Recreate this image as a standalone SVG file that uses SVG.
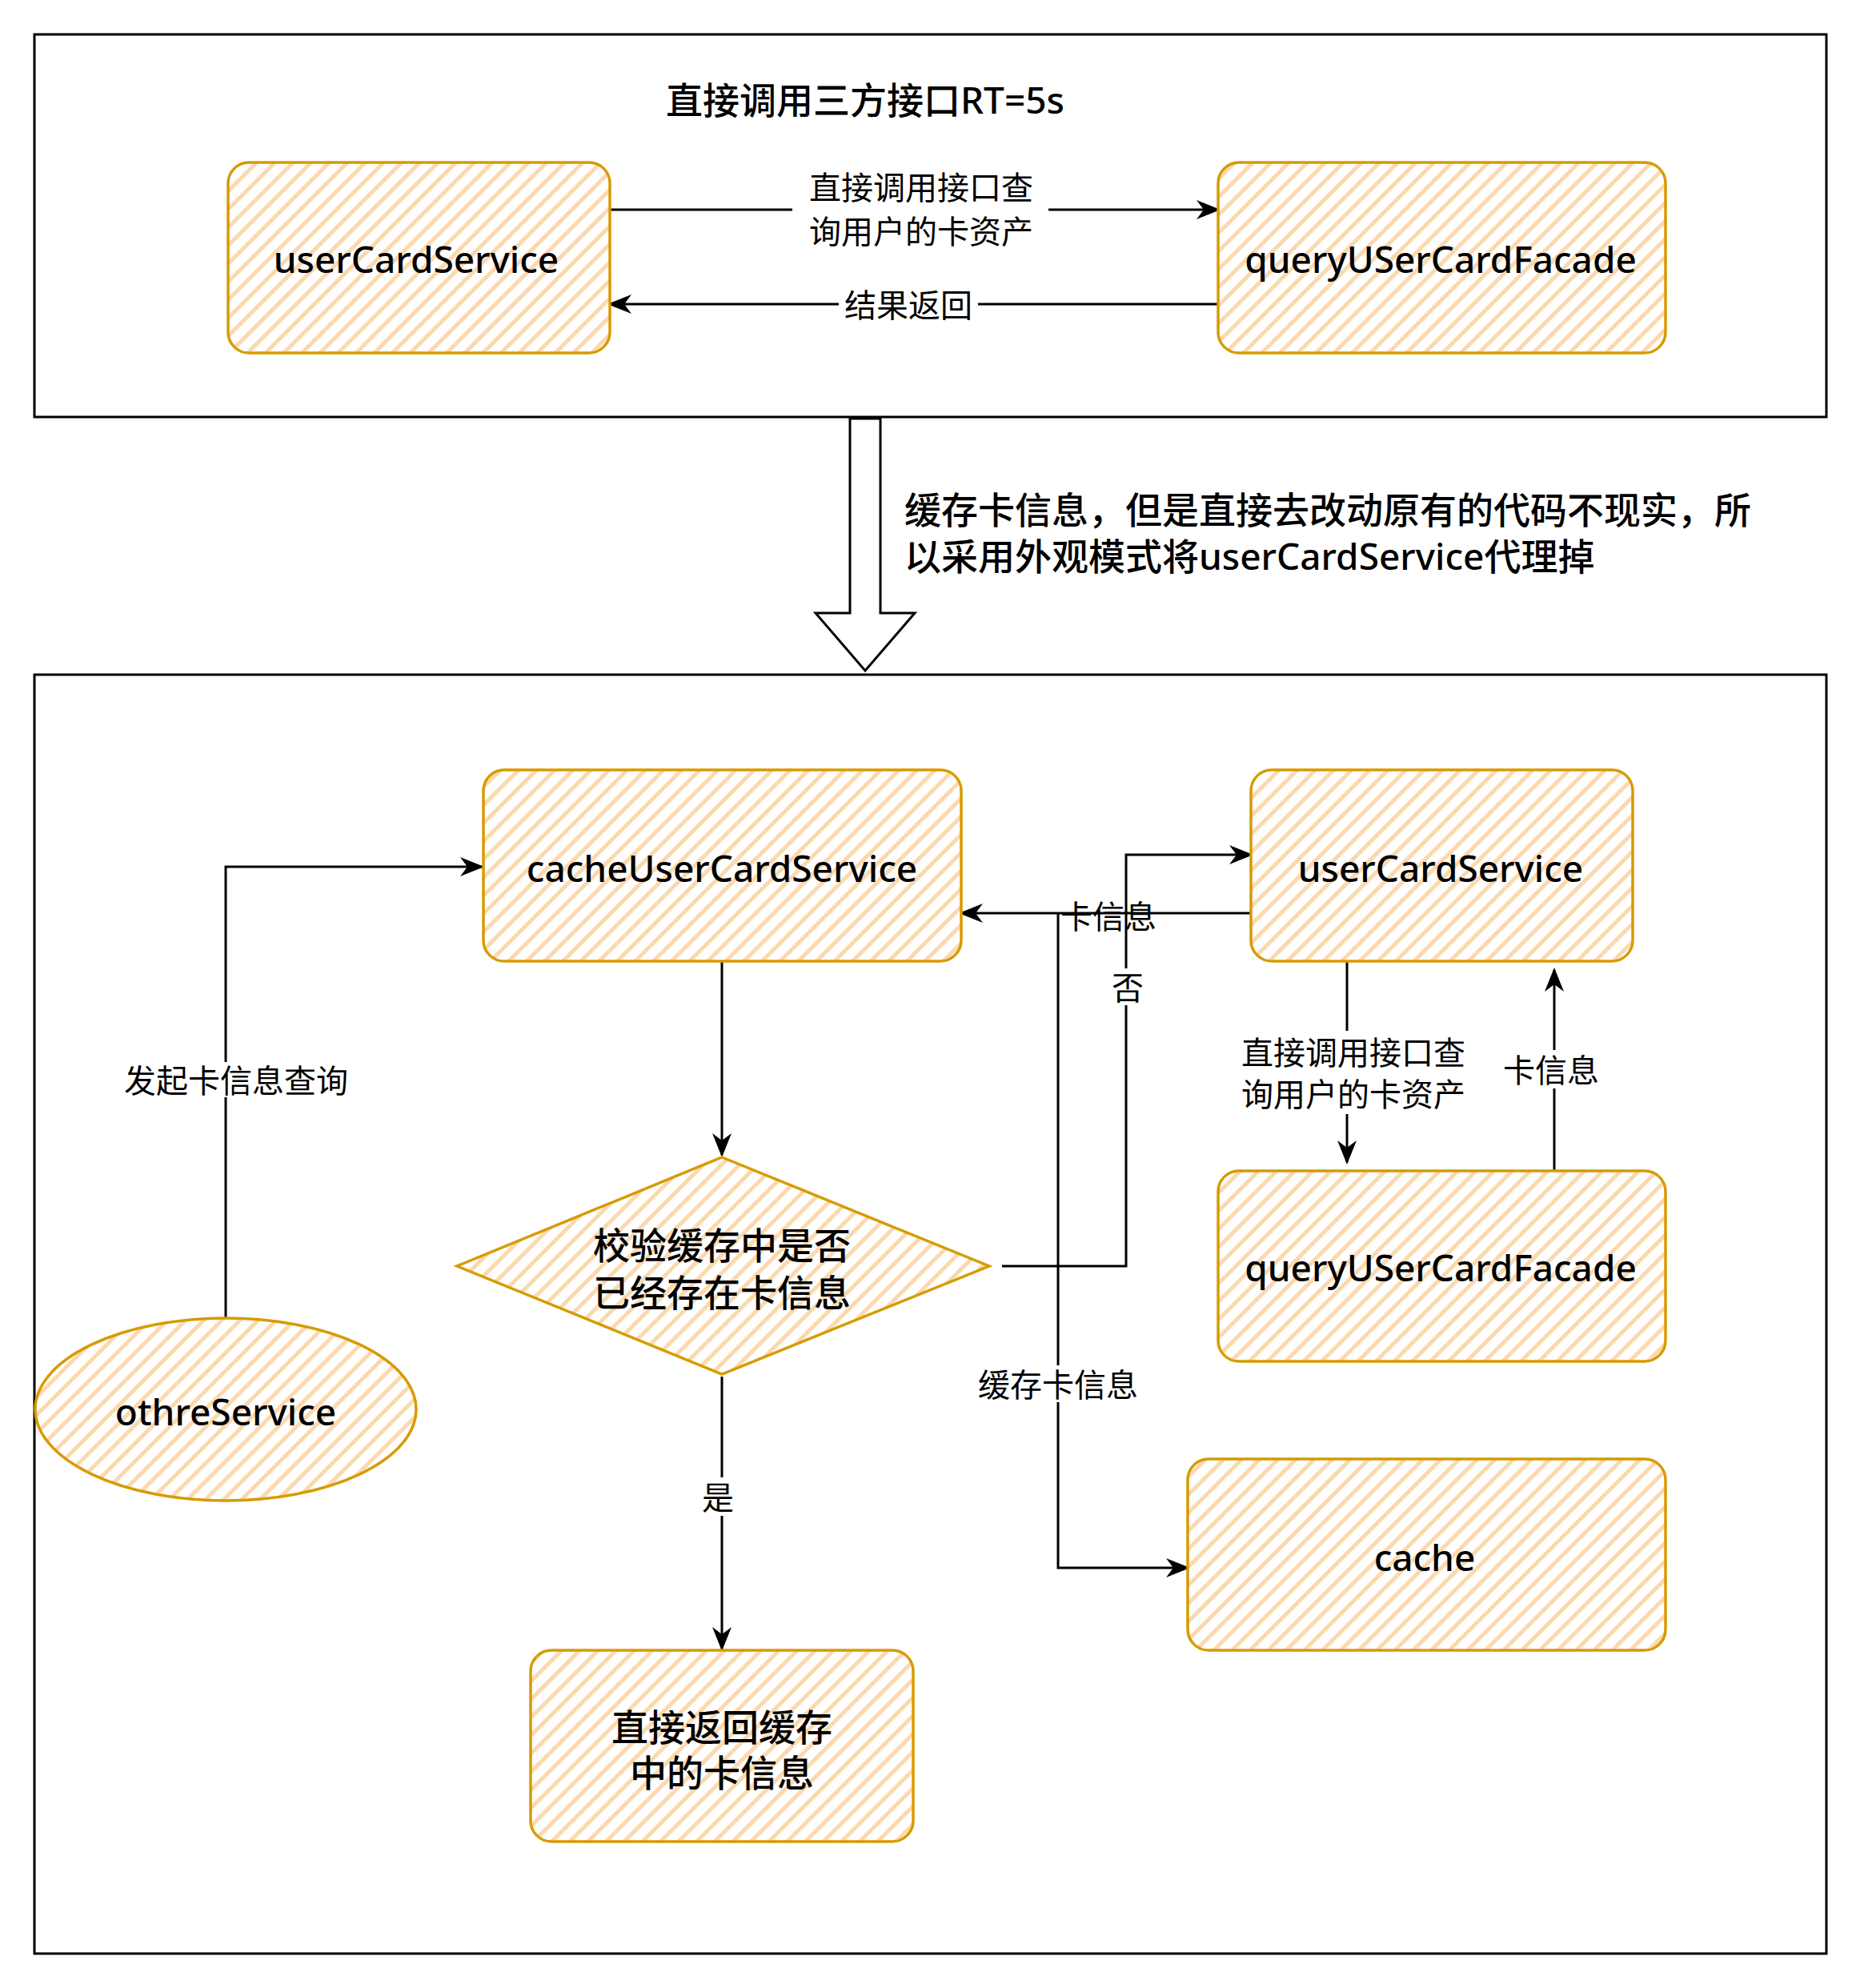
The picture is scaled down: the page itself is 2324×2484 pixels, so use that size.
<svg xmlns="http://www.w3.org/2000/svg" width="2324" height="2484" viewBox="0 0 2324 2484">
<defs>
<pattern id="h" width="16" height="16" patternUnits="userSpaceOnUse" patternTransform="rotate(-45)">
<rect width="16" height="16" fill="#fff"/>
<rect width="16" height="5" fill="#fbd9ae"/>
</pattern>
<marker id="a" viewBox="0 0 10 10" refX="9" refY="5" markerWidth="30" markerHeight="30" markerUnits="userSpaceOnUse" orient="auto">
<path d="M0,1 L10,5 L0,9 L3,5 Z" fill="#000"/>
</marker>
</defs>
<style>
.n{fill:url(#h);stroke:#d79b00;stroke-width:3.5}
.t{font-family:"Noto Sans","Noto Sans CJK SC",sans-serif;font-size:46px;font-weight:500;text-anchor:middle;dominant-baseline:central;fill:#000}
.l{font-family:"Noto Sans","Noto Sans CJK SC",sans-serif;font-size:40px;text-anchor:middle;dominant-baseline:central;fill:#000}
.bg{fill:#fff}
.c{fill:none;stroke:#000;stroke-width:3;marker-end:url(#a)}
.f{fill:none;stroke:#000;stroke-width:3}
</style>
<rect width="2324" height="2484" fill="#fff"/>
<g id="frame-top"><rect x="43" y="43" width="2239" height="478" class="f"/></g>
<g id="frame-bottom"><rect x="43" y="843" width="2239" height="1598" class="f"/></g>
<g id="title"><text x="1081" y="124" class="t">直接调用三方接口RT=5s</text></g>
<g id="big-arrow"><path d="M1062,523 L1100,523 L1100,766 L1143,766 L1081,838 L1019,766 L1062,766 Z" fill="#fff" stroke="#000" stroke-width="3"/></g>
<g id="note"><text x="1130" y="636" class="t" style="text-anchor:start">缓存卡信息，但是直接去改动原有的代码不现实，所</text><text x="1130" y="694" class="t" style="text-anchor:start">以采用外观模式将userCardService代理掉</text></g>
<g id="connectors">
<path d="M762,262 L1522,262" class="c"/>
<path d="M1522,380 L762,380" class="c"/>
<path d="M282,1647 L282,1083 L602,1083" class="c"/>
<path d="M902,1201 L902,1443" class="c"/>
<path d="M902,1720 L902,2060" class="c"/>
<path d="M1252,1582 L1407,1582 L1407,1068 L1563,1068" class="c"/>
<path d="M1563,1141 L1201,1141" class="c"/>
<path d="M1322,1141 L1322,1959 L1484,1959" class="c"/>
<path d="M1683,1201 L1683,1452" class="c"/>
<path d="M1942,1463 L1942,1212" class="c"/>
<rect x="990" y="205" width="320" height="110" class="bg"/>
<text x="1151" y="233" class="l">直接调用接口查</text><text x="1151" y="288" class="l">询用户的卡资产</text>
<rect x="1048" y="358" width="174" height="44" class="bg"/>
<text x="1135" y="380" class="l">结果返回</text>
<rect x="140" y="1327" width="310" height="44" class="bg"/>
<text x="295" y="1349" class="l">发起卡信息查询</text>
<rect x="875" y="1846" width="44" height="48" class="bg"/>
<text x="897" y="1870" class="l">是</text>
<rect x="1386" y="1210" width="44" height="46" class="bg"/>
<text x="1409" y="1233" class="l">否</text>
<text x="1385" y="1144" class="l">卡信息</text>
<rect x="1212" y="1706" width="220" height="46" class="bg"/>
<text x="1322" y="1729" class="l">缓存卡信息</text>
<rect x="1530" y="1288" width="320" height="104" class="bg"/>
<text x="1691" y="1314" class="l">直接调用接口查</text><text x="1691" y="1366" class="l">询用户的卡资产</text>
<rect x="1872" y="1312" width="132" height="48" class="bg"/>
<text x="1938" y="1336" class="l">卡信息</text>
</g>
<g id="userCardService-top"><rect x="285" y="203" width="477" height="238" rx="26" class="n"/><text x="520" y="323" class="t">userCardService</text></g>
<g id="queryFacade-top"><rect x="1522" y="203" width="559" height="238" rx="26" class="n"/><text x="1800" y="323" class="t">queryUSerCardFacade</text></g>
<g id="cacheUserCardService"><rect x="604" y="962" width="597" height="239" rx="26" class="n"/><text x="902" y="1084" class="t">cacheUserCardService</text></g>
<g id="userCardService"><rect x="1563" y="962" width="477" height="239" rx="26" class="n"/><text x="1800" y="1084" class="t">userCardService</text></g>
<g id="queryFacade"><rect x="1522" y="1463" width="559" height="238" rx="26" class="n"/><text x="1800" y="1583" class="t">queryUSerCardFacade</text></g>
<g id="cache"><rect x="1484" y="1823" width="597" height="239" rx="26" class="n"/><text x="1780" y="1945" class="t">cache</text></g>
<g id="return"><rect x="663" y="2062" width="478" height="239" rx="26" class="n"/><text x="902" y="2157" class="t">直接返回缓存</text><text x="902" y="2214" class="t">中的卡信息</text></g>
<g id="check"><path d="M902,1446 L1236,1582 L902,1717 L571,1582 Z" class="n"/><text x="902" y="1555" class="t">校验缓存中是否</text><text x="902" y="1614" class="t">已经存在卡信息</text></g>
<g id="othreService"><ellipse cx="282" cy="1761" rx="238" ry="114" class="n"/><text x="282" y="1763" class="t">othreService</text></g>
</svg>
